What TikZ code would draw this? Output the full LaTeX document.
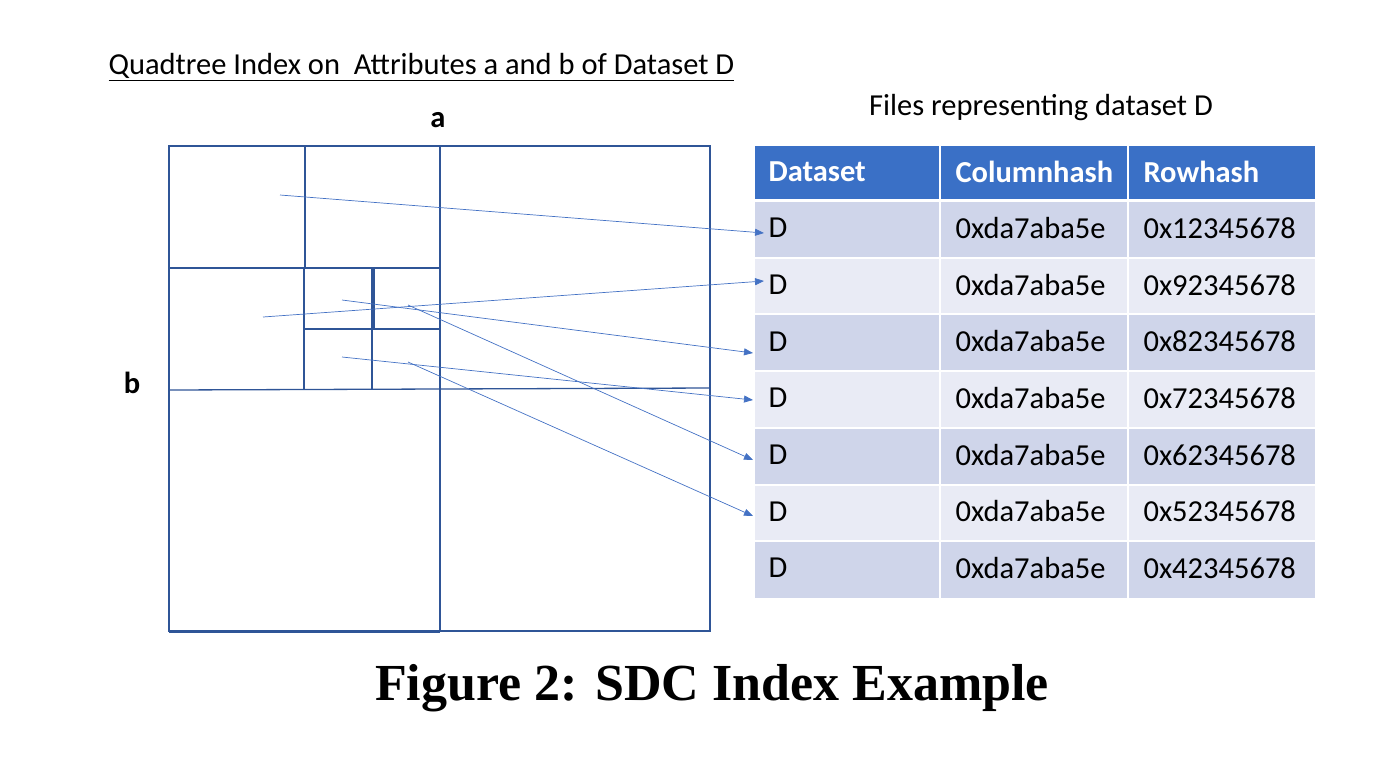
\documentclass[tikz,border=0pt]{standalone}
\usepackage{fontspec}
\setmainfont{Carlito}
\newfontfamily\capfont{Liberation Serif}
\usetikzlibrary{arrows.meta}
\definecolor{qblue}{HTML}{2F5597}
\definecolor{hblue}{HTML}{3A70C6}
\definecolor{rowa}{HTML}{CFD5EA}
\definecolor{rowb}{HTML}{E9EBF5}
\definecolor{ablue}{HTML}{4472C4}
\newcommand\bigf{\fontsize{30.5}{34}\selectfont}
\tikzset{
  quad/.style={draw=qblue,line width=1.3pt},
  ptr/.style={draw=ablue,line width=0.7pt,-{Triangle[length=9pt,width=7pt]}},
  txt/.style={font=\bigf,anchor=west}
}
\begin{document}
\begin{tikzpicture}[x=1pt,y=-1pt]
\useasboundingbox (0,0) rectangle (1386,756);
% quadtree
\draw[quad] (169,146) rectangle (710,631);
\draw[quad] (440,146) -- (440,632);
\draw[quad] (169,632) -- (440,632);
\draw[quad] (169,390) -- (710,388);
\draw[quad] (305,146) -- (305,268);
\draw[quad] (169,268) -- (440,268);
\draw[quad] (304,268) -- (304,390);
\draw[quad] (372,268) -- (372,390);
\draw[quad] (305,329) -- (440,329);
\draw[quad] (374,268) -- (374,328);
% table
\fill[hblue] (755,146) rectangle (1315,199);
\draw[white,line width=2pt] (940,146) -- (940,199) (1128,146) -- (1128,199);
\node[txt,text=white,font=\bigf\bfseries] (h1) at (765,172) {Dataset};
\node[txt,text=white,font=\bigf\bfseries] (h2) at (952,172) {Columnhash};
\node[txt,text=white,font=\bigf\bfseries] (h3) at (1140,172) {Rowhash};
\foreach \i/\h/\c in {0/12345678/rowa,1/92345678/rowb,2/82345678/rowa,3/72345678/rowb,4/62345678/rowa,5/52345678/rowb,6/42345678/rowa}{
  \pgfmathsetmacro\yt{201+56.7*\i}
  \pgfmathsetmacro\yb{\yt+56.7}
  \pgfmathsetmacro\ym{\yt+27}
  \fill[\c] (755,\yt) rectangle (1315,\yb);
  \draw[white,line width=2pt] (755,\yt) -- (1315,\yt) (940,\yt) -- (940,\yb) (1128,\yt) -- (1128,\yb);
  \node[txt] (d\i) at (765,\ym) {D};
  \node[txt] (c\i) at (952,\ym) {0xda7aba5e};
  \node[txt] (r\i) at (1140,\ym) {0x\h};
}
% pointers
\coordinate (s0) at (280,195); \coordinate (t0) at (764,233);
\coordinate (s1) at (263,317); \coordinate (t1) at (764,281);
\coordinate (s2) at (342,300); \coordinate (t2) at (753,353);
\coordinate (s3) at (342,357); \coordinate (t3) at (753,400);
\coordinate (s4) at (408,305); \coordinate (t4) at (753,460);
\coordinate (s5) at (408,362); \coordinate (t5) at (753,516);
\foreach \k in {0,...,5}{\draw[ptr] (s\k) -- (t\k);}
% labels
\node[font=\bigf,anchor=west] (title) at (105,67) {\underline{Quadtree Index on\ \ Attributes a and b of Dataset D}};
\node[font=\bigf\bfseries] (la) at (438,120) {a};
\node[font=\bigf\bfseries] (lb) at (132,383) {b};
\node[font=\bigf] (files) at (1041,108) {Files representing dataset D};
\node[font=\fontsize{52}{58}\selectfont\capfont\bfseries] (cap) at (712,688) {Figure 2: SDC Index Example};
\end{tikzpicture}
\end{document}
